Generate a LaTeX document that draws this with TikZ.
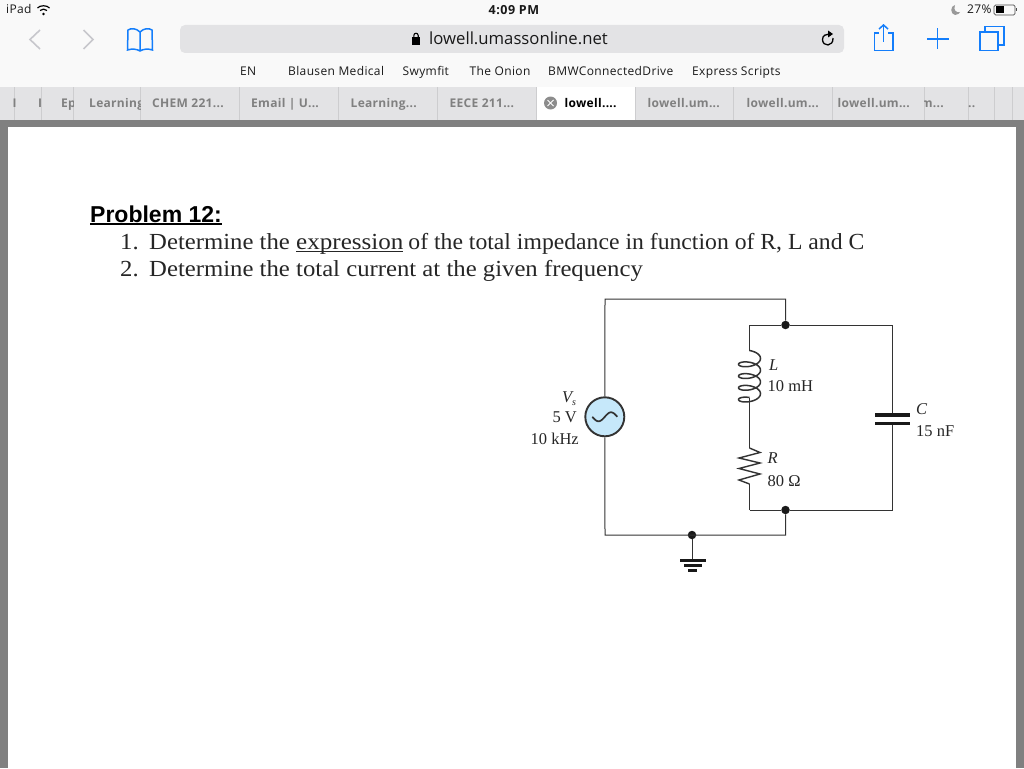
\documentclass[tikz,border=0pt]{standalone}
\usepackage{xcolor}
\usepackage{fontspec}
\setmainfont{Open Sans}
\newfontfamily\titlefont{Liberation Sans}
\newfontfamily\bookfont[FakeStretch=1.075]{Liberation Serif}
\newfontfamily\bookfontexpr[FakeStretch=1.09]{Liberation Serif}
\newfontfamily\bookfontlast[FakeStretch=1.03]{Liberation Serif}
\newfontfamily\circfont{Liberation Serif}
\newcommand{\ulfixed}[3]{\setbox0\hbox{#1}\rlap{\rule[-#2]{\wd0}{#3}}\box0}
\definecolor{barbg}{HTML}{F9F9F9}
\definecolor{tabbg}{HTML}{E3E3E5}
\definecolor{tabline}{HTML}{CDCDCF}
\definecolor{framegray}{HTML}{808080}
\definecolor{iosblue}{HTML}{147EFB}
\definecolor{chevgray}{HTML}{C7C7CC}
\definecolor{srcblue}{HTML}{C6E8FA}
\definecolor{wire}{HTML}{333333}
\tikzset{
    uitext/.style={inner sep=0pt,anchor=base west,text=black!90,font=\fontsize{12}{13}\selectfont\addfontfeature{LetterSpace=3}},
    tabtext/.style={uitext,text=framegray,font=\fontsize{12}{13}\selectfont\bfseries\addfontfeature{LetterSpace=2.5}},
    booktext/.style={inner sep=0pt,anchor=base west,text=black!85,font=\fontsize{23}{26}\selectfont\bookfont},
    circtext/.style={inner sep=0pt,anchor=base west,text=black!85,font=\fontsize{16.5}{18}\selectfont\circfont},
    circtextr/.style={circtext,anchor=base east},
    circital/.style={circtext,font=\fontsize{16.5}{18}\selectfont\circfont\itshape},
    dotnode/.style={shape=circle,fill=black!90,inner sep=0pt,minimum size=8.5pt},
    wireline/.style={draw=wire,line width=1pt},
    iosicon/.style={draw=iosblue,line width=1.5pt}
}
\begin{document}
\begin{tikzpicture}[x=1pt,y=-1pt]
    \useasboundingbox (0,0) rectangle (1024,768);
    \fill[framegray] (0,0) rectangle (1024,768);
    \fill[white] (8,127) rectangle (1016,768);
    \fill[barbg] (0,0) rectangle (1024,87);
    \fill[tabbg] (0,87) rectangle (1024,120);
    \fill[white] (536,87) rectangle (635,120);
    \fill[tabbg,rounded corners=5pt] (180,25) rectangle (844,53);

    \foreach \sepx in {14.5,41.5,73,140.5,239,338,437,536,635,733.7,832.7,924,968,994,1012}
        \draw[tabline,line width=0.8pt] (\sepx,87) -- (\sepx,120);

    % status bar
    \node[uitext] (ipad) at (6,14) {iPad};
    \node[uitext,font=\fontsize{12.5}{13}\selectfont\bfseries\addfontfeature{LetterSpace=4}] (clock) at (488.5,14.3) {4:09 PM};
    \node[uitext] (percent) at (967,14) {27\%};
    \draw[black,line width=1.2pt] (37.5,8) .. controls (40,5) and (47,5) .. (49.5,8);
    \draw[black,line width=1.2pt] (40,10.5) .. controls (42,8.7) and (45,8.7) .. (47,10.5);
    \fill[black] (43.5,14) circle (1.4pt);
    \fill[black!40] (955,5) .. controls (950,6) and (950,14) .. (955,15) .. controls (958,15) and (960,13) .. (960,12) .. controls (956,13) and (953,10) .. (955,5);
    \draw[black!70,line width=0.7pt,rounded corners=1.5pt] (994,5) rectangle (1015,15);
    \fill[black] (995.5,6.5) rectangle (1004,13.5);
    \fill[black!70] (1016,8.5) rectangle (1017,11.5);

    % toolbar
    \draw[chevgray,line width=1.6pt] (40,30) -- (30,39.5) -- (40,49);
    \draw[chevgray,line width=1.6pt] (83.5,30) -- (93,39.5) -- (83.5,49);
    \draw[iosicon] (140,32) .. controls (136,28) and (131,28) .. (128,30) -- (127.5,50) .. controls (132,48.5) and (137,49) .. (140,51) .. controls (143,49) and (148,48.5) .. (152.5,50) -- (152,30) .. controls (149,28) and (144,28) .. (140,32) -- (140,51);
    \fill[black] (412,37.5) rectangle (420,45);
    \draw[black,line width=1.1pt] (413.8,37.5) -- (413.8,35.5) .. controls (413.8,32.5) and (418.2,32.5) .. (418.2,35.5) -- (418.2,37.5);
    \node[uitext,font=\fontsize{16.7}{19}\selectfont] (url) at (429,45) {lowell.umassonline.net};
    \draw[black,line width=1.3pt] (833,38) .. controls (833.5,47) and (822.5,47) .. (822.5,39.5) .. controls (822.5,35.5) and (826,34) .. (829,34);
    \fill[black] (828,30.5) -- (833,34) -- (828,37.5) -- cycle;
    \draw[iosicon] (879,33) -- (874.5,33) -- (874.5,50.5) -- (893,50.5) -- (893,33) -- (888,33);
    \draw[iosicon] (883.5,42) -- (883.5,25);
    \draw[iosicon] (879,29) -- (883.5,25) -- (888,29);
    \draw[iosicon] (927,39) -- (948.5,39);
    \draw[iosicon] (937.7,28.5) -- (937.7,49.5);
    \draw[iosicon] (980,32) rectangle (998,50.5);
    \draw[iosicon] (985,32) -- (985,26.5) -- (1004,26.5) -- (1004,45) -- (998,45);

    % bookmarks
    \node[uitext] (en) at (240,75) {EN};
    \node[uitext] (blausen) at (288,75) {Blausen Medical};
    \node[uitext] (swymfit) at (402.5,75) {Swymfit};
    \node[uitext] (onion) at (469.5,75) {The Onion};
    \node[uitext] (bmw) at (548,75) {BMWConnectedDrive};
    \node[uitext] (express) at (692,75) {Express Scripts};

    % tabs
    \node[tabtext] (tabA) at (12.5,107) {I};
    \node[tabtext] (tabB) at (38,107) {I};
    \begin{scope}
        \clip (41.5,87) rectangle (73,120);
        \node[tabtext] (tabC) at (61,107) {Ep};
    \end{scope}
    \begin{scope}
        \clip (73,87) rectangle (140.5,120);
        \node[tabtext] (tabD) at (89,107) {Learning};
    \end{scope}
    \node[tabtext] (tabE) at (152,107) {CHEM 221...};
    \node[tabtext] (tabF) at (251,107) {Email | U...};
    \node[tabtext] (tabG) at (350.5,107) {Learning...};
    \node[tabtext] (tabH) at (449.5,107) {EECE 211...};
    \node[shape=circle,fill=black!45,inner sep=0pt,minimum size=13pt] (tabclose) at (550.5,103) {};
    \draw[white,line width=1pt] (547.5,100) -- (553.5,106);
    \draw[white,line width=1pt] (553.5,100) -- (547.5,106);
    \node[tabtext,text=black] (tabI) at (564.5,107) {lowell....};
    \node[tabtext] (tabJ) at (647.5,107) {lowell.um...};
    \node[tabtext] (tabK) at (746.5,107) {lowell.um...};
    \node[tabtext] (tabL) at (837.5,107) {lowell.um...};
    \begin{scope}
        \clip (924,87) rectangle (968,120);
        \node[tabtext,anchor=base east] (tabM) at (944,107) {um...};
    \end{scope}
    \node[tabtext] (tabN) at (968,107) {..};

    % problem text
    \node[inner sep=0pt,anchor=base west,text=black,font=\fontsize{23}{26}\selectfont\titlefont\bfseries] (title) at (90,222) {\ulfixed{Problem 12:}{2.6pt}{2pt}};
    \node[booktext] (numA) at (120,249.6) {1.};
    \node[booktext] (lineA) at (149,249.6) {\makebox[147pt][l]{Determine the}{\bookfontexpr\ulfixed{expression}{2.6pt}{1pt}}\hspace{5pt}{\bookfontlast of the total impedance in function of R, L and C}};
    \node[booktext] (numB) at (120,276.6) {2.};
    \node[booktext] (lineB) at (149,276.6) {Determine the total current at the given frequency};

    % circuit
    \node[shape=circle,draw=wire,line width=1.9pt,fill=srcblue,inner sep=0pt,minimum size=39pt] (Vs) at (604.8,416.8) {};
    \node[dotnode] (top) at (785.5,325) {};
    \node[dotnode] (bottom) at (785.5,510) {};
    \node[dotnode] (gnd) at (692,535) {};
    \coordinate (cornerTL) at (605,299);
    \coordinate (cornerTR) at (785.5,299);
    \coordinate (cornerBL) at (605,535);
    \coordinate (cornerBR) at (785.5,535);
    \coordinate (branchTL) at (749.5,325);
    \coordinate (branchTR) at (892.7,325);
    \coordinate (branchBL) at (749.5,510);
    \coordinate (branchBR) at (892.7,510);
    \coordinate (Ltop) at (749.5,350.5);
    \coordinate (Lbot) at (749.5,397.5);
    \coordinate (Rtop) at (749.5,448);
    \coordinate (Rbot) at (749.5,484);
    \coordinate (Ctop) at (892.7,415);
    \coordinate (Cbot) at (892.7,423.5);
    \coordinate (gndbar) at (692,560.5);

    \draw[wireline] (Vs) -- (cornerTL) -- (cornerTR) -- (top);
    \draw[wireline] (Vs) -- (cornerBL) -- (cornerBR) -- (bottom);
    \draw[wireline] (branchTL) -- (top) -- (branchTR) -- (Ctop);
    \draw[wireline] (branchBL) -- (bottom) -- (branchBR) -- (Cbot);
    \draw[wireline] (branchTL) -- (Ltop);
    \draw[wireline] (Lbot) -- (Rtop);
    \draw[wireline] (Rbot) -- (branchBL);
    \draw[wireline] (gnd) -- (gndbar);

    \draw[wire,line width=1.5pt,smooth] plot[domain=0:1440,samples=160] ({749.5+11*sin(\x)},{350.5+\x/1440*47+5*(1-cos(\x))});
    \draw[wire,line width=1.4pt] (Rtop) -- (760,452.5) -- (739,458) -- (760,463) -- (739,468.5) -- (760,474) -- (739,480) -- (Rbot);
    \draw[wire,line width=1.7pt,smooth] plot[domain=-180:180,samples=50] ({604.8+\x/180*12.5},{416.8-4.5*sin(\x)});

    \fill[black!90] (875,413) rectangle (910,416.7);
    \fill[black!90] (875,421.7) rectangle (910,425.4);
    \fill[black!90] (679.5,559) rectangle (705.5,562.3);
    \fill[black!90] (684,564) rectangle (702,567.3);
    \fill[black!90] (688,569) rectangle (697,572);

    \node[circital] (Vlabel) at (562,402) {V};
    \node[circital,font=\fontsize{10}{11}\selectfont\circfont\itshape] (Vsub) at (572,405) {s};
    \node[circtextr] (Vval) at (577,422) {5 V};
    \node[circtextr] (Vfreq) at (579,444) {10 kHz};
    \node[circital] (Llabel) at (769,370) {L};
    \node[circtext] (Lval) at (767.5,391) {10 mH};
    \node[circital] (Rlabel) at (767.5,463) {R};
    \node[circtext] (Rval) at (767.5,486) {80 \char"03A9};
    \node[circital] (Clabel) at (916,414) {C};
    \node[circtext] (Cval) at (916,436) {15 nF};
\end{tikzpicture}
\end{document}
